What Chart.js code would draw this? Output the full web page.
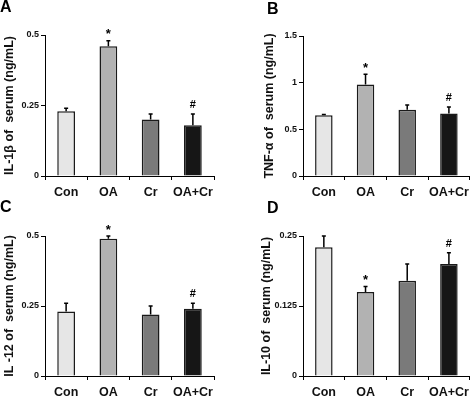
<!DOCTYPE html>
<html>
<head>
<meta charset="utf-8">
<script src="https://cdn.jsdelivr.net/npm/chart.js@4.4.0/dist/chart.umd.min.js"></script>
<style>
  body { margin: 0; background: #fff; }
  #wrap { position: relative; width: 474px; height: 398px; overflow: hidden; }
  canvas { position: absolute; }
  .letra { position: absolute; font: bold 16px "Liberation Sans", Arial, sans-serif; line-height: 16px; color: #000; }
</style>
</head>
<body>
<div id="wrap">
  <canvas id="gA" width="237" height="199" style="left:0;top:0"></canvas>
  <canvas id="gB" width="237" height="199" style="left:237px;top:0"></canvas>
  <canvas id="gC" width="237" height="199" style="left:0;top:199px"></canvas>
  <canvas id="gD" width="237" height="199" style="left:237px;top:199px"></canvas>
  <div class="letra" style="left:0;top:-1px">A</div>
  <div class="letra" style="left:267px;top:1px">B</div>
  <div class="letra" style="left:0;top:199px">C</div>
  <div class="letra" style="left:267px;top:200px">D</div>
</div>
<script>
const grups = ['Con', 'OA', 'Cr', 'OA+Cr'];
const colors = ['#e6e6e6', '#b2b2b2', '#7a7a7a', '#161616'];
const marques = ['', '*', '', '#'];

// IL-1β
const il1b = [0.23, 0.46, 0.20, 0.18];
const il1bErr = [0.01, 0.02, 0.02, 0.04];
const il1bTicks = [0, 0.25, 0.5];

// TNF-α
const tnf = [0.65, 0.98, 0.71, 0.67];
const tnfErr = [0.01, 0.11, 0.05, 0.07];
const tnfTicks = [0, 0.5, 1, 1.5];

// IL-12
const il12 = [0.23, 0.49, 0.22, 0.24];
const il12Err = [0.03, 0.01, 0.03, 0.02];
const il12Ticks = [0, 0.25, 0.5];

// IL-10
const il10 = [0.23, 0.15, 0.17, 0.20];
const il10Err = [0.02, 0.01, 0.03, 0.02];
const il10Ticks = [0, 0.125, 0.25];

const FONT = '"Liberation Sans", Arial, sans-serif';

// barres d'error (només cap amunt) i marques de significació
const errorBars = {
    id: 'errorBars',
    afterDatasetsDraw(chart, args, opts) {
        const ctx = chart.ctx;
        const y = chart.scales.y;
        const meta = chart.getDatasetMeta(0);
        const dades = chart.data.datasets[0].data;
        ctx.save();
        ctx.strokeStyle = '#000';
        ctx.fillStyle = '#000';
        ctx.lineWidth = 1.5;
        meta.data.forEach((bar, i) => {
            const top = y.getPixelForValue(dades[i] + opts.err[i]);
            ctx.beginPath();
            ctx.moveTo(bar.x, bar.y);
            ctx.lineTo(bar.x, top);
            ctx.moveTo(bar.x - 2, top);
            ctx.lineTo(bar.x + 2, top);
            ctx.stroke();
            const m = opts.marks[i];
            if (m === '*') {
                ctx.font = 'bold 13px ' + FONT;
                ctx.textAlign = 'center';
                ctx.textBaseline = 'middle';
                ctx.fillText(m, bar.x, top - 6);
            } else if (m === '#') {
                ctx.font = 'bold 11px ' + FONT;
                ctx.textAlign = 'center';
                ctx.textBaseline = 'middle';
                ctx.fillText(m, bar.x, top - 9);
            }
        });
        ctx.restore();
    }
};

function crearGrafic(canva, dades, errs, ticks, titol, lay) {
    new Chart(canva, {
        type: 'bar',
        data: {
            labels: grups,
            datasets: [{
                data: dades,
                backgroundColor: colors,
                borderColor: '#1a1a1a',
                borderWidth: 1.5,
                barPercentage: 0.42,
                categoryPercentage: 1
            }]
        },
        plugins: [errorBars],
        options: {
            responsive: false,
            animation: false,
            devicePixelRatio: 1,
            layout: {
                padding: { left: lay.padL, top: lay.top, right: lay.padR, bottom: 0 }
            },
            plugins: {
                legend: { display: false },
                tooltip: { enabled: false },
                errorBars: { err: errs, marks: marques }
            },
            scales: {
                x: {
                    afterFit(s) { s.height = lay.xh; },
                    grid: { drawOnChartArea: false, drawTicks: true, tickLength: 4, color: '#000', offset: true },
                    border: { color: '#000', width: 1 },
                    ticks: {
                        color: '#111',
                        padding: 5,
                        maxRotation: 0,
                        minRotation: 0,
                        autoSkip: false,
                        font: { family: FONT, size: 12.5, weight: 'bold' }
                    }
                },
                y: {
                    min: 0,
                    max: ticks[ticks.length - 1],
                    afterFit(s) { s.width = lay.yw; },
                    afterBuildTicks(s) { s.ticks = ticks.map(v => ({ value: v })); },
                    grid: { drawOnChartArea: false, drawTicks: true, tickLength: 4, color: '#000' },
                    border: { color: '#000', width: 1 },
                    ticks: {
                        color: '#111',
                        padding: 2,
                        font: { family: FONT, size: 9, weight: 'bold' },
                        callback: v => String(v)
                    },
                    title: {
                        display: true,
                        text: titol,
                        color: '#111',
                        padding: { top: 2.5, bottom: 0 },
                        font: { family: FONT, size: 12.5, weight: 'bold' }
                    }
                }
            }
        }
    });
}

crearGrafic('gA', il1b, il1bErr, il1bTicks, 'IL-1β of  serum (ng/mL)',
    { padL: 0, yw: 45, top: 35, xh: 23, padR: 23 });
crearGrafic('gB', tnf, tnfErr, tnfTicks, 'TNF-α of  serum (ng/mL)',
    { padL: 23, yw: 43, top: 36, xh: 23, padR: 1 });
crearGrafic('gC', il12, il12Err, il12Ticks, 'IL -12 of  serum (ng/mL)',
    { padL: 0, yw: 45, top: 37, xh: 22, padR: 23 });
crearGrafic('gD', il10, il10Err, il10Ticks, 'IL-10 of  serum (ng/mL)',
    { padL: 20, yw: 46, top: 37, xh: 22, padR: 1 });
</script>
</body>
</html>
